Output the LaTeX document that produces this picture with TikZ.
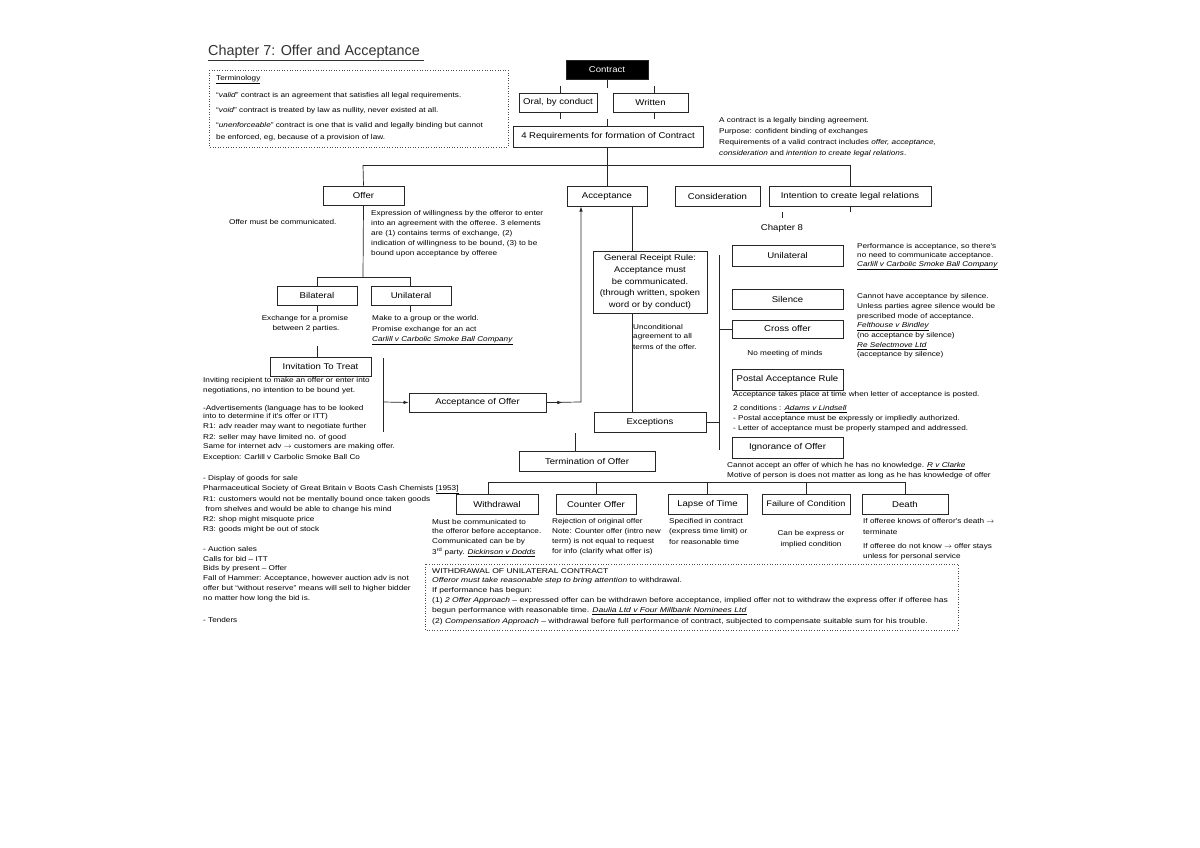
\documentclass[tikz,border=0pt]{standalone}
\usepackage{fontspec}
\setmainfont{Liberation Sans}
\newfontfamily\bodyf[FakeStretch=1.17]{Liberation Sans}
\newfontfamily\boxf[FakeStretch=1.14]{Liberation Sans}
\newfontfamily\wdf[FakeStretch=1.22]{Liberation Sans}
\usetikzlibrary{arrows.meta}
\begin{document}
\begin{tikzpicture}[x=1pt,y=-1pt,
 box/.style={draw=black!85, line width=0.7pt, inner sep=0pt, font=\boxf\fontsize{8.4}{10}\selectfont, align=center},
 t/.style={anchor=west, inner sep=0pt, font=\bodyf\fontsize{7}{8}\selectfont},
 tc/.style={anchor=center, inner sep=0pt, font=\bodyf\fontsize{7}{8}\selectfont},
 tw/.style={anchor=west, inner sep=0pt, font=\wdf\fontsize{7}{8}\selectfont},
 ln/.style={draw=black!85, line width=0.7pt},
 arr/.style={ln, -{Latex[length=5pt,width=3.5pt]}},
 dotbox/.style={draw=black!70, line width=0.6pt, dotted}]
\useasboundingbox[fill=white] (0,0) rectangle (1200,848);

% Title
\node[anchor=west, inner sep=0pt, font=\fontsize{14.4}{16}\selectfont, text=black!80] (title) at (208,53) {\underline{Chapter 7: Offer and Acceptance\ }};

% Terminology
\draw[dotbox] (209,70) rectangle (508,147);
\node[t] (term0) at (216,80) {\underline{Terminology}};
\node[t] (term1) at (216,96) {“\textit{valid}” contract is an agreement that satisfies all legal requirements.};
\node[t] (term2) at (216,111) {“\textit{void}” contract is treated by law as nullity, never existed at all.};
\node[t] (term3) at (216,126) {“\textit{unenforceable}” contract is one that is valid and legally binding but cannot};
\node[t] (term4) at (216,138) {be enforced, eg, because of a provision of law.};

% Top nodes
\node[box, fill=black, text=white, minimum width=82, minimum height=19] (contract) at (607,69.5) {Contract};
\node[box, minimum width=78, minimum height=19] (oral) at (558,102.5) {Oral, by conduct};
\node[box, minimum width=75, minimum height=19] (written) at (650.5,102.5) {Written};
\node[box, minimum width=190, minimum height=21] (req) at (608,136.5) {4 Requirements for formation of Contract};
\draw[ln] (contract.south) -- ++(0,9);
\draw[ln] (560,86) -- (560,93) (654,86) -- (654,93);
\draw[ln] (560,112) -- (560,119) (654,112) -- (654,119);
\draw[ln] (607,119) -- (req.north -| 607,0);

% Purpose text
\node[t] (p1) at (719,121) {A contract is a legally binding agreement.};
\node[t] (p2) at (719,132) {Purpose: confident binding of exchanges};
\node[t] (p3) at (719,143) {Requirements of a valid contract includes \textit{offer, acceptance,}};
\node[t] (p4) at (719,154) {\textit{consideration} and \textit{intention to create legal relations}.};

% Four requirements
\node[box, minimum width=81, minimum height=19] (offer) at (363.5,195.5) {Offer};
\node[box, minimum width=80, minimum height=20] (accept) at (607,196) {Acceptance};
\node[box, minimum width=85, minimum height=20] (consid) at (717.5,196) {Consideration};
\node[box, minimum width=162, minimum height=20] (intent) at (850,196) {Intention to create legal relations};
\coordinate (hubL) at (363,165);
\coordinate (hubR) at (850,165);
\draw[ln] (req.south -| 607,0) -- (607,165);
\draw[ln] (hubL) -- (hubR);
\draw[ln] (hubL) -- (offer.north);
\draw[ln] (607,165) -- (accept.north);
\draw[ln] (hubR) -- (intent.north);
\draw[ln] (intent.south) -- ++(0,6);
\draw[ln] (782,212) -- (782,218);
\node[tc, font=\boxf\fontsize{8.4}{10}\selectfont] (ch8) at (782,228) {Chapter 8};

% Offer branch
\node[t] (offcomm) at (229,222) {Offer must be communicated.};
\node[t] (ex1) at (371,214) {Expression of willingness by the offeror to enter};
\node[t] (ex2) at (371,224) {into an agreement with the offeree. 3 elements};
\node[t] (ex3) at (371,234) {are (1) contains terms of exchange, (2)};
\node[t] (ex4) at (371,244) {indication of willingness to be bound, (3) to be};
\node[t] (ex5) at (371,254) {bound upon acceptance by offeree};
\node[box, minimum width=80, minimum height=19] (bilat) at (317,295.5) {Bilateral};
\node[box, minimum width=80, minimum height=19] (unilat) at (411,295.5) {Unilateral};
\draw[ln] (offer.south) -- (363,277);
\draw[ln] (317,277) -- (410,277);
\draw[ln] (317,277) -- (bilat.north);
\draw[ln] (410,277) -- (410,286);
\draw[ln] (bilat.south) -- ++(0,7);
\draw[ln] (410,305) -- (410,312);
\node[tc] (bil1) at (305,319) {Exchange for a promise};
\node[tc] (bil2) at (306,329) {between 2 parties.};
\node[t] (un1) at (372,319) {Make to a group or the world.};
\node[t] (un2) at (372,330) {Promise exchange for an act};
\node[t] (un3) at (372,341) {\underline{\textit{Carlill v Carbolic Smoke Ball Company}}};

% Invitation to treat
\node[box, minimum width=101, minimum height=19] (itt) at (320.5,366.5) {Invitation To Treat};
\draw[ln] (317,346) -- (itt.north -| 317,0);
\node[t] (i1) at (203,381) {Inviting recipient to make an offer or enter into};
\node[t] (i2) at (203,391) {negotiations, no intention to be bound yet.};
\node[t] (i3) at (203,409) {-Advertisements (language has to be looked};
\node[t] (i4) at (203,417) {into to determine if it's offer or ITT)};
\node[t] (i5) at (203,427) {R1: adv reader may want to negotiate further};
\node[t] (i6) at (203,438) {R2: seller may have limited no. of good};
\node[t] (i7) at (203,447) {Same for internet adv $\to$ customers are making offer.};
\node[t] (i8) at (203,458) {Exception: Carlill v Carbolic Smoke Ball Co};
\node[t] (d1) at (203,479) {- Display of goods for sale};
\node[t] (d2) at (203,490) {Pharmaceutical Society of Great Britain v Boots Cash Chemists \underline{[1953]}};
\node[t] (d3) at (203,500) {R1: customers would not be mentally bound once taken goods};
\node[t] (d4) at (203,510) {\ from shelves and would be able to change his mind};
\node[t] (d5) at (203,520) {R2: shop might misquote price};
\node[t] (d6) at (203,530) {R3: goods might be out of stock};
\node[t] (a1) at (203,549) {- Auction sales};
\node[t] (a2) at (203,559) {Calls for bid – ITT};
\node[t] (a3) at (203,569) {Bids by present – Offer};
\node[t] (a4) at (203,579) {Fall of Hammer: Acceptance, however auction adv is not};
\node[t] (a5) at (203,589) {offer but “without reserve” means will sell to higher bidder};
\node[t] (a6) at (203,599) {no matter how long the bid is.};
\node[t] (tend) at (203,620) {- Tenders};

% Acceptance of offer
\node[box, minimum width=137, minimum height=19] (aoo) at (477.5,402.5) {Acceptance of Offer};
\coordinate (ittline) at (383,402);
\draw[ln] (383,358) -- (383,432);
\draw[arr] (ittline) -- (aoo.west);
\draw[arr] (aoo.east) -- ++(16,0);
\draw[arr] (aoo.east) -- (581,402) -- (581,206.5);

% Acceptance branch
\node[box, minimum width=114, minimum height=62, font=\boxf\fontsize{8.2}{11.8}\selectfont] (grr) at (650,282) {General Receipt Rule:\\Acceptance must\\be communicated.\\(through written, spoken\\word or by conduct)};
\draw[ln] (632,206) -- (632,251);
\draw[ln] (632,313) -- (632,412);
\node[t] (uc1) at (633,327) {Unconditional};
\node[t] (uc2) at (633,337) {agreement to all};
\node[t] (uc3) at (633,347) {terms of the offer.};
\node[box, minimum width=112, minimum height=20] (exc) at (650,422) {Exceptions};

% Exceptions list
\node[box, minimum width=111, minimum height=21] (runi) at (787.5,255.5) {Unilateral};
\node[box, minimum width=111, minimum height=20] (sil) at (787.5,299) {Silence};
\node[box, minimum width=111, minimum height=18] (cross) at (787.5,329) {Cross offer};
\node[box, minimum width=111, minimum height=21] (postal) at (787.5,379.5) {Postal Acceptance Rule};
\node[box, minimum width=111, minimum height=21] (ign) at (787.5,447.5) {Ignorance of Offer};
\draw[ln] (719,255) -- (719,450);
\draw[ln] (exc.east) -- (719,422);
\draw[ln] (719,329) -- (cross.west);
\node[tc] (nm) at (785,354) {No meeting of minds};
\node[t] (r1) at (857,247) {Performance is acceptance, so there's};
\node[t] (r2) at (857,256) {no need to communicate acceptance.};
\node[t] (r3) at (857,266) {\underline{\textit{Carlill v Carbolic Smoke Ball Company}}};
\node[t] (s1) at (857,297) {Cannot have acceptance by silence.};
\node[t] (s2) at (857,307) {Unless parties agree silence would be};
\node[t] (s3) at (857,317) {prescribed mode of acceptance.};
\node[t] (s4) at (857,327) {\underline{\textit{Felthouse v Bindley}}};
\node[t] (s5) at (857,336) {(no acceptance by silence)};
\node[t] (s6) at (857,346) {\underline{\textit{Re Selectmove Ltd}}};
\node[t] (s7) at (857,355) {(acceptance by silence)};
\node[t] (po1) at (733,395) {Acceptance takes place at time when letter of acceptance is posted.};
\node[t] (po2) at (733,409) {2 conditions : \underline{\textit{Adams v Lindsell}}};
\node[t] (po3) at (733,419) {- Postal acceptance must be expressly or impliedly authorized.};
\node[t] (po4) at (733,429) {- Letter of acceptance must be properly stamped and addressed.};
\node[t] (ig1) at (727,466) {Cannot accept an offer of which he has no knowledge. \underline{\textit{R v Clarke}}};
\node[t] (ig2) at (727,476) {Motive of person is does not matter as long as he has knowledge of offer};

% Termination
\node[box, minimum width=136, minimum height=20] (term) at (587,461) {Termination of Offer};
\draw[ln] (575,433) -- (575,451);
\node[box, minimum width=82, minimum height=20] (wd) at (497,504) {Withdrawal};
\node[box, minimum width=80, minimum height=20] (co) at (596,504) {Counter Offer};
\node[box, minimum width=79, minimum height=20] (lt) at (707.5,504) {Lapse of Time};
\node[box, minimum width=88, minimum height=20, font=\boxf\fontsize{8}{10}\selectfont] (fc) at (806,504) {Failure of Condition};
\node[box, minimum width=86, minimum height=20] (death) at (905,504) {Death};
\draw[ln] (488,482) -- (905,482);
\draw[ln] (488,482) -- (488,494);
\draw[ln] (596,482) -- (co.north);
\draw[ln] (707,482) -- (707,494);
\draw[ln] (806,482) -- (fc.north);
\draw[ln] (905,482) -- (death.north);

\node[t] (w1) at (432,522) {Must be communicated to};
\node[t] (w2) at (432,532) {the offeror before acceptance.};
\node[t] (w3) at (432,542) {Communicated can be by};
\node[t] (w4) at (432,552) {3\textsuperscript{rd} party. \underline{\textit{Dickinson v Dodds}}};
\node[t] (c1) at (552,522) {Rejection of original offer};
\node[t] (c2) at (552,532) {Note: Counter offer (intro new};
\node[t] (c3) at (552,542) {term) is not equal to request};
\node[t] (c4) at (552,552) {for info (clarify what offer is)};
\node[t] (l1) at (669,522) {Specified in contract};
\node[t] (l2) at (669,532) {(express time limit) or};
\node[t] (l3) at (669,542) {for reasonable time};
\node[tc] (f1) at (811,534) {Can be express or};
\node[tc] (f2) at (811,545) {implied condition};
\node[t] (de1) at (863,521) {If offeree knows of offeror's death $\to$};
\node[t] (de2) at (863,532) {terminate};
\node[t] (de3) at (863,547) {If offeree do not know $\to$ offer stays};
\node[t] (de4) at (863,557) {unless for personal service};

% Withdrawal of unilateral contract
\draw[dotbox] (425,564) rectangle (958,630);
\node[tw] (u1) at (432,571) {WITHDRAWAL OF UNILATERAL CONTRACT};
\node[tw] (u2) at (432,581) {\textit{Offeror must take reasonable step to bring attention} to withdrawal.};
\node[tw] (u3) at (432,591) {If performance has begun:};
\node[tw] (u4) at (432,601) {(1) \textit{2 Offer Approach} – expressed offer can be withdrawn before acceptance, implied offer not to withdraw the express offer if offeree has};
\node[tw] (u5) at (432,611) {begun performance with reasonable time. \underline{\textit{Daulia Ltd v Four Millbank Nominees Ltd}}};
\node[tw] (u6) at (432,622) {(2) \textit{Compensation Approach} – withdrawal before full performance of contract, subjected to compensate suitable sum for his trouble.};
\end{tikzpicture}
\end{document}
